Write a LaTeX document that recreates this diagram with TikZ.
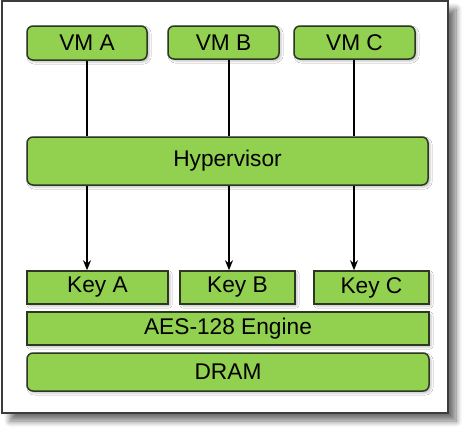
\documentclass[tikz,border=0pt]{standalone}
\usepackage{fontspec}
\setmainfont{Liberation Sans}
\usetikzlibrary{shadows.blur,arrows.meta}
\definecolor{boxgreen}{RGB}{146,208,80}
\definecolor{boxedge}{RGB}{45,55,35}
\definecolor{frameedge}{RGB}{60,60,60}
\tikzset{
  blk/.style={draw=boxedge, fill=boxgreen, line width=1.5pt, inner sep=0pt,
    font=\fontsize{22.7}{26}\selectfont, text=black,
    blur shadow={shadow xshift=2pt, shadow yshift=-2pt, shadow blur steps=4, shadow blur extra rounding=1pt, shadow opacity=25}},
  rblk/.style={blk, rounded corners=6pt},
  link/.style={line width=2pt, black},
  arr/.style={link, -{Stealth[length=10pt,width=8pt]}},
}
\begin{document}
\begin{tikzpicture}[x=1pt,y=-1pt]
\useasboundingbox (0,0) rectangle (474,439);
\node[draw=frameedge, line width=2.2pt, fill=white, minimum width=446pt, minimum height=412pt, inner sep=0pt,
  blur shadow={shadow xshift=8pt, shadow yshift=-8pt, shadow blur steps=10, shadow blur radius=6pt, shadow opacity=55}]
  (frame) at (225,207) {};
% VMs
\node[rblk, minimum width=120pt, minimum height=34pt] (vmA) at (87,43) {VM A};
\node[rblk, minimum width=111pt, minimum height=33pt] (vmB) at (223.5,42.5) {VM B};
\node[rblk, minimum width=121pt, minimum height=33pt] (vmC) at (354.5,42.5) {VM C};
% Hypervisor
\node[rblk, minimum width=401pt, minimum height=48pt] (hyp) at (227.5,161) {Hypervisor};
% Keys
\node[blk, minimum width=141pt, minimum height=33pt] (keyA) at (97.5,287.5) {Key A};
\node[blk, minimum width=115pt, minimum height=33pt] (keyB) at (237.5,287.5) {Key B};
\node[blk, minimum width=115pt, minimum height=33pt] (keyC) at (371.5,287.5) {Key C};
% AES
\node[blk, minimum width=402pt, minimum height=33pt] (aes) at (228,328.5) {AES-128 Engine};
% DRAM
\node[rblk, minimum width=402pt, minimum height=38pt] (dram) at (228,372) {DRAM};
% connectors
\coordinate (la) at ([xshift=0pt]vmA.south);
\coordinate (lb) at ([xshift=5.5pt]vmB.south);
\coordinate (lc) at ([xshift=-0.5pt]vmC.south);
\draw[link] (la) -- (la |- hyp.north);
\draw[link] (lb) -- (lb |- hyp.north);
\draw[link] (lc) -- (lc |- hyp.north);
\draw[arr] (la |- hyp.south) -- (la |- keyA.north);
\draw[arr] (lb |- hyp.south) -- (lb |- keyB.north);
\draw[arr] (lc |- hyp.south) -- (lc |- keyC.north);
\end{tikzpicture}
\end{document}
